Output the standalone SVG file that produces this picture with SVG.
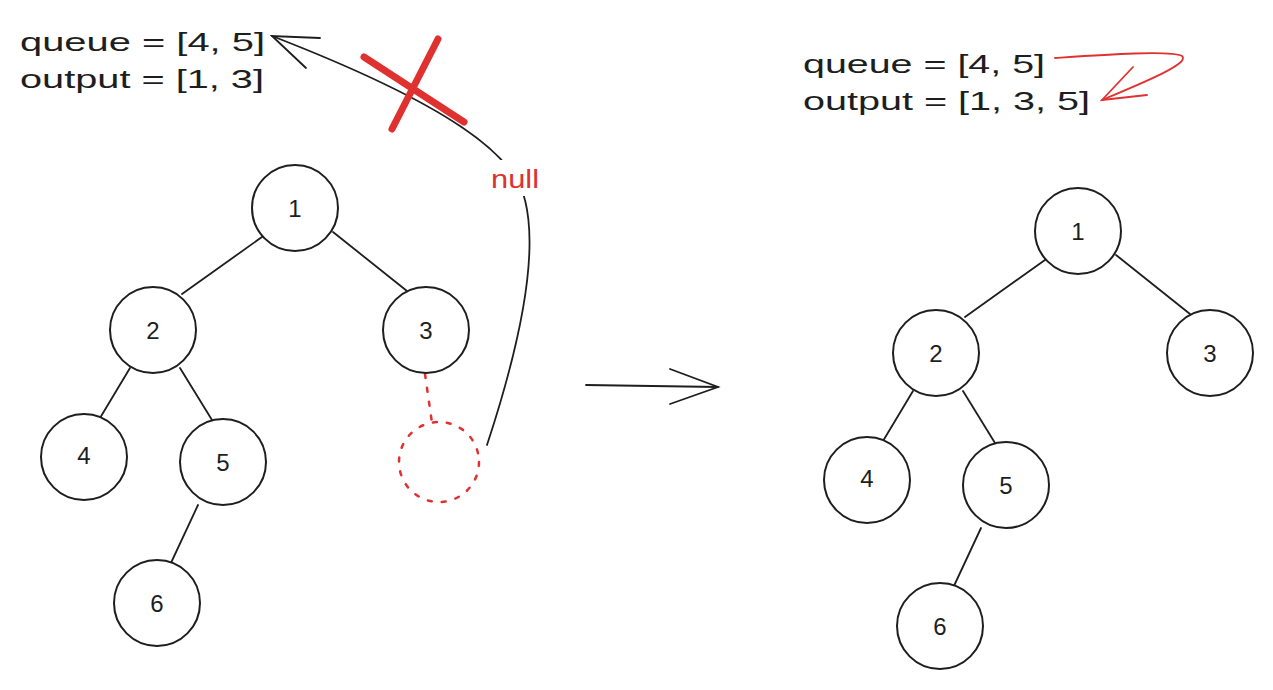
<svg xmlns="http://www.w3.org/2000/svg" width="1273" height="690" viewBox="0 0 1273 690">
<style>
.n{fill:#fff;stroke:#1e1e1e;stroke-width:2}
.t{font-family:"Liberation Sans","DejaVu Sans",sans-serif;font-size:24px;fill:#1e1e1e;text-anchor:middle;dominant-baseline:central}
.lbl{font-family:"Liberation Sans","DejaVu Sans",sans-serif;font-size:26px;fill:#1e1e1e}
.e{stroke:#1e1e1e;stroke-width:1.8;fill:none;stroke-linecap:round}
.r{stroke:#e03131;fill:none;stroke-linecap:round}
</style>
<rect width="1273" height="690" fill="#fff"/>
<g id="labels">
<text class="lbl" x="20" y="51" textLength="245" lengthAdjust="spacingAndGlyphs">queue = [4, 5]</text>
<text class="lbl" x="20" y="88" textLength="244" lengthAdjust="spacingAndGlyphs">output = [1, 3]</text>
<text class="lbl" x="803" y="73" textLength="242" lengthAdjust="spacingAndGlyphs">queue = [4, 5]</text>
<text class="lbl" x="803" y="110" textLength="287" lengthAdjust="spacingAndGlyphs">output = [1, 3, 5]</text>
</g>
<g id="connectors">
<line class="e" x1="269" y1="232" x2="182" y2="294"/>
<line class="e" x1="333" y1="232" x2="407" y2="291"/>
<line class="e" x1="130" y1="368" x2="100" y2="418"/>
<line class="e" x1="180" y1="368" x2="212" y2="420"/>
<line class="e" x1="198" y1="505" x2="170" y2="565"/>
<line class="e" x1="1052" y1="255" x2="965" y2="317"/>
<line class="e" x1="1116" y1="255" x2="1190" y2="314"/>
<line class="e" x1="913" y1="391" x2="883" y2="441"/>
<line class="e" x1="963" y1="391" x2="995" y2="443"/>
<line class="e" x1="981" y1="528" x2="953" y2="588"/>
<line class="r" x1="425" y1="374" x2="432" y2="423" stroke-width="2.5" stroke-dasharray="4 10"/>
<path class="e" d="M487 445 C515 360 540 260 525 200 C515 155 450 105 272 36"/>
<path class="e" d="M320 38 L272 36 L306 68"/>
<rect x="486" y="160" width="58" height="36" fill="#fff"/>
<text x="515" y="188" font-family="Liberation Sans, DejaVu Sans, sans-serif" font-size="26" fill="#e03131" text-anchor="middle" textLength="48" lengthAdjust="spacingAndGlyphs">null</text>
<line class="r" x1="364" y1="57" x2="464" y2="122" stroke-width="7"/>
<line class="r" x1="438" y1="39" x2="392" y2="129" stroke-width="7"/>
<line class="e" x1="586" y1="385" x2="718" y2="387"/>
<path class="e" d="M670 369 L718 387 L670 404"/>
<path class="r" stroke-width="1.8" d="M1055 58 C1100 55 1170 50 1182 56 C1190 63 1150 80 1102 100"/>
<path class="r" stroke-width="1.8" d="M1133 67 L1102 100 L1147 95"/>
</g>
<g id="node-null"><circle cx="439" cy="462" r="40" fill="none" stroke="#e03131" stroke-width="2.5" stroke-dasharray="4 10" stroke-linecap="round"/></g>
<g id="node-L1"><circle class="n" cx="295" cy="208" r="43"/><text class="t" x="295" y="208">1</text></g>
<g id="node-L2"><circle class="n" cx="153" cy="330" r="43"/><text class="t" x="153" y="330">2</text></g>
<g id="node-L3"><circle class="n" cx="426" cy="330" r="43"/><text class="t" x="426" y="330">3</text></g>
<g id="node-L4"><circle class="n" cx="84" cy="457" r="43"/><text class="t" x="84" y="455">4</text></g>
<g id="node-L5"><circle class="n" cx="223" cy="462" r="43"/><text class="t" x="223" y="462">5</text></g>
<g id="node-L6"><circle class="n" cx="157" cy="603" r="43"/><text class="t" x="157" y="603">6</text></g>
<g id="node-R1"><circle class="n" cx="1078" cy="231" r="43"/><text class="t" x="1078" y="231">1</text></g>
<g id="node-R2"><circle class="n" cx="936" cy="353" r="43"/><text class="t" x="936" y="353">2</text></g>
<g id="node-R3"><circle class="n" cx="1210" cy="353" r="43"/><text class="t" x="1210" y="353">3</text></g>
<g id="node-R4"><circle class="n" cx="867" cy="480" r="43"/><text class="t" x="867" y="478">4</text></g>
<g id="node-R5"><circle class="n" cx="1006" cy="485" r="43"/><text class="t" x="1006" y="485">5</text></g>
<g id="node-R6"><circle class="n" cx="940" cy="626" r="43"/><text class="t" x="940" y="626">6</text></g>
</svg>
